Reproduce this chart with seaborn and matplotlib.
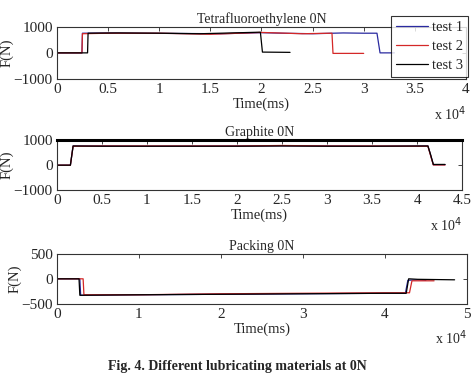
import matplotlib
matplotlib.use("Agg")
import matplotlib.pyplot as plt
import seaborn as sns
import pandas as pd

# breakpoints (time in ms, force in N)
t1_time = [0, 2450, 2500, 2600, 5000, 8000, 12000, 16000, 20000, 22000, 25000, 28000, 30000, 31300, 31600, 33000]
t1_force = [0, 0, 760, 760, 770, 760, 750, 740, 780, 760, 740, 770, 760, 760, 0, 0]
t2_time = [0, 2450, 2500, 5000, 10000, 15000, 20000, 24000, 26900, 27000, 30000]
t2_force = [0, 0, 740, 760, 760, 720, 790, 740, 760, -20, -20]
t3_time = [0, 3000, 3050, 6000, 10000, 14000, 18000, 19900, 20100, 22800]
t3_force = [0, 0, 760, 770, 760, 740, 780, 800, 30, 20]

g_time = [0, 1500, 1800, 5000, 10000, 20000, 25000, 30000, 35000, 41200, 41500, 41800, 43100]
g1_force = [0, 0, 770, 770, 760, 770, 780, 770, 760, 770, 400, 20, 20]
g2_force = [0, 0, 760, 770, 770, 770, 790, 770, 770, 760, 380, 10, 10]
g3_force = [0, 0, 770, 760, 760, 760, 770, 760, 760, 770, 420, 30, 30]

p1_time = [0, 2800, 2900, 10000, 20000, 30000, 40000, 42500, 42800, 44000, 45000]
p1_force = [0, 0, -330, -320, -310, -300, -290, -290, -30, -20, -30]
p2_time = [0, 3200, 3300, 10000, 20000, 30000, 40000, 43000, 43300, 45000, 46000]
p2_force = [0, 0, -320, -320, -300, -290, -280, -280, -40, -40, -40]
p3_time = [0, 2700, 2800, 10000, 20000, 30000, 40000, 42600, 42900, 44000, 48500]
p3_force = [0, 0, -330, -320, -310, -300, -290, -290, 0, -10, -20]

sns.set_style("white")
plt.rcParams["font.family"] = ["Liberation Serif", "DejaVu Serif"]
plt.rcParams["font.size"] = 10.5
plt.rcParams["xtick.direction"] = "in"
plt.rcParams["ytick.direction"] = "in"
plt.rcParams["xtick.top"] = True
plt.rcParams["ytick.right"] = True

fig = plt.figure(figsize=(4.74, 3.75), dpi=100)

def frame(rows):
    return pd.concat([pd.DataFrame({"t": t, "f": f, "s": name}) for t, f, name in rows])

colors = {"test 1": "#2a2aa0", "test 2": "#d42828", "test 3": "black"}

panels = [
    ("Tetrafluoroethylene 0N", [0.120, 0.790, 0.863, 0.138],
     frame([(t1_time, t1_force, "test 1"), (t2_time, t2_force, "test 2"), (t3_time, t3_force, "test 3")]),
     40000, [-1000, 1000], [-1000, 0, 1000], 0.5),
    ("Graphite 0N", [0.120, 0.493, 0.855, 0.133],
     frame([(g_time, g1_force, "test 1"), (g_time, g2_force, "test 2"), (g_time, g3_force, "test 3")]),
     45000, [-1000, 1000], [-1000, 0, 1000], 0.5),
    ("Packing 0N", [0.120, 0.190, 0.865, 0.133],
     frame([(p1_time, p1_force, "test 1"), (p2_time, p2_force, "test 2"), (p3_time, p3_force, "test 3")]),
     50000, [-500, 500], [-500, 0, 500], 1),
]

for i, (title, rect, df, xmax, ylim, yticks, step) in enumerate(panels):
    ax = fig.add_axes(rect)
    sns.lineplot(data=df, x="t", y="f", hue="s", palette=colors,
                 linewidth=0.9, ax=ax, legend=(i == 0), sort=False, estimator=None)
    ax.set_xlim(0, xmax)
    ax.set_ylim(*ylim)
    ax.set_yticks(yticks)
    ticks = [k * step * 10000 for k in range(int(round(xmax / (step * 10000))) + 1)]
    ax.set_xticks(ticks)
    ax.set_xticklabels([("%g" % (v / 10000)) for v in ticks])
    ax.set_title(title, fontsize=10, pad=3)
    ax.set_xlabel("Time(ms)", fontsize=10.5, labelpad=1)
    ax.set_ylabel("F(N)", fontsize=10.5, labelpad=0)
    ax.tick_params(length=3, width=0.6, labelsize=11)
    ax.tick_params(axis="x", pad=3)
    ax.tick_params(axis="y", pad=3)
    for sp in ax.spines.values():
        sp.set_linewidth(0.8)
        sp.set_color("#333333")
    if i == 1:
        ax.spines["top"].set_linewidth(2.2)
        ax.spines["top"].set_color("black")
    ax.text(1.0, -0.5, r"x 10$^4$", transform=ax.transAxes, ha="right", va="top", fontsize=10)
    if i == 0:
        leg = ax.legend(loc="upper right", bbox_to_anchor=(1.004, 1.21), frameon=True,
                        fancybox=False, edgecolor="black", fontsize=10.5, handlelength=2.2,
                        borderpad=0.3, labelspacing=0.42, handletextpad=0.3,
                        borderaxespad=0)
        leg.get_frame().set_linewidth(0.8)

fig.text(0.5, 0.005, "Fig. 4. Different lubricating materials at 0N", ha="center", va="bottom",
         fontsize=10, fontweight="bold")

fig.savefig("out.png", dpi=100)
